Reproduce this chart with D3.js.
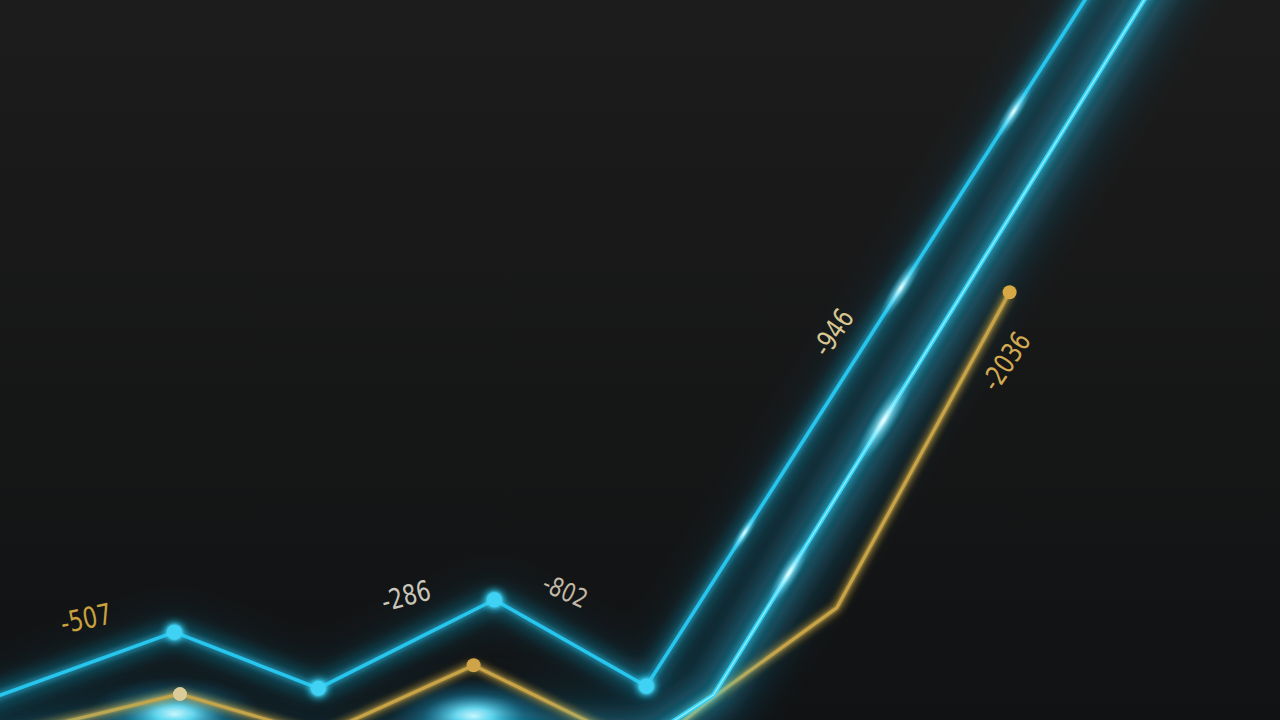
<!DOCTYPE html>
<html><head><meta charset="utf-8">
<script src="https://cdn.jsdelivr.net/npm/d3@7"></script>
<style>html,body{margin:0;padding:0;background:#151515;overflow:hidden}</style>
</head><body><svg id="c" width="1280" height="720"></svg>
<script>
// ---- data ----
const seriesAX = [-0.5, 1.09, 1.99, 3.09, 4.04, 7.1];
const seriesAY = [-0.6, 12.2, 4.4, 16.7, 4.7, 111.1];
const seriesBX = [-0.5, 1.09, 2.0, 2.96, 4.04, 4.46, 7.41];
const seriesBY = [-6.3, -0.6, -6.9, -0.9, -2.6, 3.5, 109.3];
const seriesCX = [-0.5, 1.125, 2.0, 2.96, 4.04, 4.46, 5.23, 6.31];
const seriesCY = [-5.1, 3.6, -2.1, 7.6, -4.2, 3.2, 15.6, 59.4];
const markerAIdx = [1, 2, 3, 4];
const markerCIdx = [1, 3, 7];
const glowBIdx = [1, 3];
const labelTexts = ["-507", "-286", "-802", "-946", "-2036"];
const labelSeries = ["A", "A", "A", "C", "C"];
const labelIdx = [1, 3, 3, 7, 7];

// ---- setup ----
const W = 1280, H = 720;
const svg = d3.select("#c");
const x = d3.scaleLinear().domain([0, 8]).range([0, W]);
const y = d3.scaleLinear().domain([0, 100]).range([H, 0]);
const zip = (xs, ys) => xs.map((v, i) => [v, ys[i]]);
const A = zip(seriesAX, seriesAY), B = zip(seriesBX, seriesBY), C = zip(seriesCX, seriesCY);
const S = {A, B, C};
const line = d3.line().x(d => x(d[0])).y(d => y(d[1]));

const defs = svg.append("defs");
const bg = defs.append("linearGradient").attr("id", "bg").attr("x1", 0).attr("y1", 0).attr("x2", 0).attr("y2", 1);
bg.append("stop").attr("offset", "0%").attr("stop-color", "#1c1c1c");
bg.append("stop").attr("offset", "100%").attr("stop-color", "#111213");

function glowFilter(id, s1, s2) {
  const f = defs.append("filter").attr("id", id).attr("filterUnits", "userSpaceOnUse")
    .attr("x", -300).attr("y", -300).attr("width", 1880).attr("height", 1320);
  f.append("feGaussianBlur").attr("in", "SourceGraphic").attr("stdDeviation", s1).attr("result", "b1");
  f.append("feGaussianBlur").attr("in", "SourceGraphic").attr("stdDeviation", s2).attr("result", "b2");
  const m = f.append("feMerge");
  m.append("feMergeNode").attr("in", "b2");
  m.append("feMergeNode").attr("in", "b2");
  m.append("feMergeNode").attr("in", "b1");
  m.append("feMergeNode").attr("in", "SourceGraphic");
}
glowFilter("glowA", 3, 10);
glowFilter("glowB", 4, 15);
glowFilter("glowC", 1.5, 4);
const blur = defs.append("filter").attr("id", "haze").attr("filterUnits", "userSpaceOnUse")
  .attr("x", -300).attr("y", -300).attr("width", 1880).attr("height", 1320);
blur.append("feGaussianBlur").attr("stdDeviation", 22);

const rg = defs.append("radialGradient").attr("id", "spot");
rg.append("stop").attr("offset", "0%").attr("stop-color", "#f4ffff").attr("stop-opacity", 1);
rg.append("stop").attr("offset", "22%").attr("stop-color", "#7ae8ff").attr("stop-opacity", 0.9);
rg.append("stop").attr("offset", "60%").attr("stop-color", "#1b9ccc").attr("stop-opacity", 0.3);
rg.append("stop").attr("offset", "100%").attr("stop-color", "#0a6a9a").attr("stop-opacity", 0);

const fl = defs.append("radialGradient").attr("id", "flare");
fl.append("stop").attr("offset", "0%").attr("stop-color", "#ffffff").attr("stop-opacity", 0.95);
fl.append("stop").attr("offset", "40%").attr("stop-color", "#9ef0ff").attr("stop-opacity", 0.5);
fl.append("stop").attr("offset", "100%").attr("stop-color", "#2ac8f0").attr("stop-opacity", 0);

svg.append("rect").attr("width", W).attr("height", H).attr("fill", "url(#bg)");

// haze under the cyan lines
svg.append("path").datum(B).attr("d", line).attr("fill", "none")
  .attr("stroke", "#1a8fc0").attr("stroke-width", 60).attr("stroke-opacity", 0.32).attr("filter", "url(#haze)");
svg.append("path").datum(A).attr("d", line).attr("fill", "none")
  .attr("stroke", "#1a8fc0").attr("stroke-width", 30).attr("stroke-opacity", 0.18).attr("filter", "url(#haze)");

// bottom glows at B peaks
svg.selectAll("ellipse.spot").data(glowBIdx).join("ellipse").attr("class", "spot")
  .attr("cx", i => x(B[i][0])).attr("cy", i => y(B[i][1]) - 10)
  .attr("rx", 85).attr("ry", 38).attr("fill", "url(#spot)");

// gold line
svg.append("path").datum(C).attr("d", line).attr("fill", "none")
  .attr("stroke", "#c9a447").attr("stroke-width", 3).attr("stroke-linejoin", "round").attr("filter", "url(#glowC)");

// cyan lines
svg.append("path").datum(A).attr("d", line).attr("fill", "none")
  .attr("stroke", "#27c6ee").attr("stroke-width", 3.5).attr("stroke-linejoin", "round").attr("filter", "url(#glowA)");
svg.append("path").datum(B).attr("d", line).attr("fill", "none")
  .attr("stroke", "#36d4f6").attr("stroke-width", 4.5).attr("stroke-linejoin", "round").attr("filter", "url(#glowB)");
svg.append("path").datum(B).attr("d", line).attr("fill", "none")
  .attr("stroke", "#c8f6ff").attr("stroke-width", 1.2).attr("stroke-opacity", 0.7);

// flares along the rising segments
const flares = [["B", 5, 0.36, 50], ["B", 5, 0.16, 38], ["A", 4, 0.52, 36], ["A", 4, 0.75, 32], ["A", 4, 0.2, 24]];
flares.forEach(([s, i, f, r]) => {
  const p0 = S[s][i], p1 = S[s][i + 1];
  const x0 = x(p0[0]), y0 = y(p0[1]), x1 = x(p1[0]), y1 = y(p1[1]);
  const ang = Math.atan2(y1 - y0, x1 - x0) * 180 / Math.PI;
  svg.append("ellipse").attr("cx", 0).attr("cy", 0).attr("rx", r).attr("ry", r * 0.24)
    .attr("fill", "url(#flare)")
    .attr("transform", `translate(${x0 + (x1 - x0) * f},${y0 + (y1 - y0) * f}) rotate(${ang})`);
});

// markers
svg.selectAll("circle.ma").data(markerAIdx).join("circle").attr("class", "ma")
  .attr("cx", i => x(A[i][0])).attr("cy", i => y(A[i][1])).attr("r", 7.5)
  .attr("fill", "#3fd2f4").attr("filter", "url(#glowC)");
const cCol = ["#d9cc98", "#cfa449", "#d6a846"];
svg.selectAll("circle.mc").data(markerCIdx).join("circle").attr("class", "mc")
  .attr("cx", i => x(C[i][0])).attr("cy", i => y(C[i][1])).attr("r", 7)
  .attr("fill", (d, k) => cCol[k]);

// labels
const lOff = [[-88, -12, -12, 29, "#c9a23e"], [-88, -2, -15, 28, "#c9c6bc"], [70, -7, 24, 26, "#c2b9a6"],
              [-175, 41, -56, 28, "#d8c690"], [-2, 70, -56, 28, "#d3aa52"]];
labelTexts.forEach((t, k) => {
  const p = S[labelSeries[k]][labelIdx[k]];
  const [dx, dy, rot, fs, col] = lOff[k];
  svg.append("text").text(t)
    .attr("transform", `translate(${x(p[0]) + dx},${y(p[1]) + dy}) rotate(${rot}) scale(0.78,1)`)
    .attr("text-anchor", "middle").attr("dominant-baseline", "middle")
    .attr("font-family", "'DejaVu Sans','Roboto',sans-serif")
    .attr("font-size", fs).attr("fill", col);
});
</script></body></html>
